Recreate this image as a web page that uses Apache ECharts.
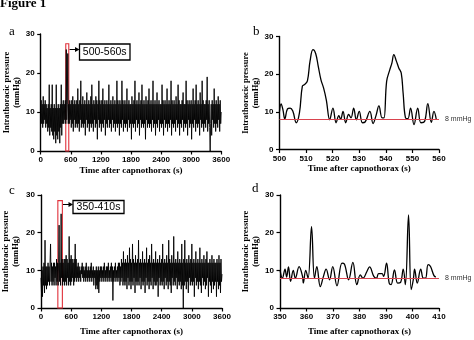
<!DOCTYPE html>
<html><head><meta charset="utf-8">
<script src="https://cdn.jsdelivr.net/npm/echarts@6/dist/echarts.min.js"></script>
<style>html,body{margin:0;padding:0;background:#fff}#c{width:474px;height:340px}</style>
</head><body><div id="c"></div>
<script>
// ---- data ----
const overviewStep = 10; // seconds between samples in the overview traces
const traceA = [
10,13,7,12,6,14,7,12,8,13,6,12,
7,11,5,12,6,17,4,11,6,12,5,17,
4,11,3,12,5,11,2,17,4,11,3,12,
5,11,2,12,6,17,4,12,7,13,7,12,
8,13,7,26,8,12,25,7,12,7,13,8,
12,6,13,7,14,5,12,8,13,6,12,7,
13,6,16,7,12,5,13,8,18,6,12,7,
14,6,12,7,13,4,12,8,15,6,12,7,
13,5,12,7,14,6,17,7,12,5,13,8,
12,6,14,7,13,3,12,8,18,6,13,7,
12,5,13,7,16,6,12,8,13,4,12,7,
13,6,12,8,17,6,12,7,13,5,12,8,
14,6,12,7,13,5,12,7,18,6,13,7,
12,4,13,7,12,6,18,8,13,5,12,7,
13,6,12,7,16,5,12,8,13,6,12,7,
12,3,14,7,12,6,13,7,18,5,12,8,
13,6,12,7,15,4,12,8,13,6,17,7,
12,6,13,7,12,3,14,8,12,6,13,7,
16,6,12,7,13,5,12,8,18,6,12,7,
13,4,12,7,15,6,12,8,13,5,12,7,
12,6,17,7,13,4,12,8,13,6,12,7,
16,5,12,7,13,6,12,8,18,4,13,7,
12,6,13,7,12,5,14,8,12,6,17,7,
13,4,12,7,12,6,13,8,15,5,12,7,
12,6,18,7,13,4,12,8,13,6,12,7,
13,3,12,7,16,6,12,8,13,5,17,7,
12,6,13,7,12,4,15,8,12,6,18,7,
13,5,12,7,12,6,13,8,19,5,12,7,
13,6,0,7,12,4,13,8,12,6,16,7,
12,5,13,7,12,6,14,8,12,5,13,7,
10];
const traceC = [
8,4,10,3,11,6,12,4,18,6,11,5,
11,6,12,7,11,6,12,17,7,12,6,11,
7,12,6,12,8,11,6,13,7,12,6,12,
22,7,12,6,25,8,13,6,12,7,13,6,
13,7,14,6,13,8,12,6,19,7,13,6,
14,7,13,8,12,6,13,7,17,8,13,7,
11,8,12,7,11,8,10,7,11,9,12,8,
11,7,10,8,11,7,12,8,10,7,11,8,
10,7,11,8,12,7,10,8,11,6,10,8,
10,5,11,6,10,5,11,4,10,7,11,8,
11,7,10,8,11,7,12,8,10,7,11,8,
11,7,12,8,10,7,11,8,12,7,11,2,
10,7,11,8,12,7,10,8,11,7,12,8,
12,6,11,7,13,8,12,6,15,7,12,6,
13,7,12,5,14,8,12,6,16,7,13,5,
12,7,17,6,13,8,12,4,14,7,12,6,
13,7,18,6,12,8,13,5,12,7,15,6,
12,7,13,4,12,8,16,6,12,7,13,5,
14,7,12,6,17,8,12,5,13,7,12,6,
15,6,12,7,13,3,12,8,14,6,12,7,
13,6,17,7,12,5,13,8,12,6,14,7,
12,5,18,7,13,6,12,4,14,8,12,6,
19,7,12,6,13,8,12,5,15,7,12,6,
13,7,12,5,17,6,12,0,13,6,18,7,
12,5,13,7,12,4,14,8,12,6,13,7,
17,6,12,7,13,3,12,8,15,6,12,7,
13,5,12,7,16,6,12,4,13,8,12,6,
14,7,12,5,13,6,15,8,12,3,12,7,
13,6,12,4,14,7,12,5,13,6,12,7,
12,3,13,7,12,5,14,6,12,4,13,7,
9];
const timeB = [500,500.6,501.3,502,503,504,505,506.3,507.5,508.6,509.5,510.5,511.5,512.6,513.6,514.6,515.6,516.6,517.6,518.9,520.1,521.3,522.3,523,523.9,524.9,526,526.9,527.9,528.9,530,531.2,532.2,534,535.2,536.3,537.4,538.6,539.3,540.3,541.5,542.3,543,544,544.9,545.8,546.5,547.4,548.3,549.3,550.6,552,553.2,554.6,555.8,557.1,558.1,559];
const valueB = [10.1,12.1,10.5,8.1,10.8,11.0,10.2,7.1,9.7,16.8,17.3,18.2,23.5,26.5,25.5,22.0,18.5,16.3,13.2,7.9,11.0,7.1,9.0,8.0,10.1,7.1,9.3,8.4,11.0,7.9,10.1,7.1,7.3,10.1,6.9,9.0,11.6,8.4,8.4,18.1,21.2,23.0,25.2,23.4,21.6,20.3,15.0,8.4,8.2,11.0,6.6,11.0,7.1,7.5,12.2,7.2,10.1,7.9];
const timeD = [350,350.9,351.9,352.5,353.2,354,355,355.8,357.2,358.5,358.8,359.7,360.6,361.9,363,363.9,365.2,366.4,367.4,368.7,369.9,371.5,373.4,374.3,375.9,377.5,379,380.3,381.3,382.8,383.8,385.4,386.4,387.2,388.5,389.1,390.2,391.2,391.9,393.2,394.4,395.5,396.5,397.3,398.5,399.5,400.3,400.8,401.8,403.1,404.1,404.9,405.9,406.8,408.1,408.8];
const valueD = [10.1,7.9,10.3,8.2,10.9,7.1,10.0,7.9,11.0,8.4,6.6,10.0,7.9,21.6,7.9,11.0,5.7,8.4,10.3,7.5,11.0,5.9,11.9,11.7,7.5,12.1,6.2,8.8,7.9,9.7,10.9,8.4,7.9,9.1,9.1,8.4,11.9,6.6,6.2,10.1,6.6,6.8,10.3,6.2,24.7,4.9,7.5,10.3,6.6,10.3,7.9,7.9,11.5,11.0,8.6,8.2];
const baseline = 8;
const windowA = [500, 560]; const windowATop = 27.5;
const windowC = [335, 425]; const windowCTop = 28.5;
const yTicks = [0, 30, 10];

// ---- build ----
const SERIF = "'Liberation Serif','Times New Roman',serif";
const SANS = "'Liberation Sans',Arial,sans-serif";
const toPairs = (vals, step) => vals.map((v, i) => [i * step, v]);
const zip = (t, v) => t.map((x, i) => [x, v[i]]);

const grids = [
  {left: 40.7, top: 34, width: 180.5, height: 117},
  {left: 279.5, top: 36.5, width: 159.5, height: 113},
  {left: 41, top: 195, width: 181, height: 113},
  {left: 280, top: 195, width: 159, height: 113}
];
const axisLine = {lineStyle: {color: '#000', width: 1.4}};
const axisTick = {length: 3.5, lineStyle: {color: '#000', width: 1.2}};
const tickLabel = {color: '#000', fontFamily: SANS, fontWeight: 'bold', fontSize: 8, formatter: v => String(v)};
function xAx(i, min, max, interval, gap) {
  return {type: 'value', gridIndex: i, min, max, interval, axisLine, axisTick,
    axisLabel: Object.assign({margin: 5}, tickLabel), splitLine: {show: false},
    name: 'Time after capnothorax (s)', nameLocation: 'middle', nameGap: gap,
    nameTextStyle: {color: '#000', fontFamily: SERIF, fontWeight: 'bold', fontSize: 9}};
}
function yAx(i, gap) {
  return {type: 'value', gridIndex: i, min: yTicks[0], max: yTicks[1], interval: yTicks[2], axisLine, axisTick,
    axisLabel: Object.assign({margin: 6}, tickLabel), splitLine: {show: false},
    name: 'Intrathoracic pressure\n(mmHg)', nameLocation: 'middle', nameGap: gap, nameRotate: 90,
    nameTextStyle: {color: '#000', fontFamily: SERIF, fontWeight: 'bold', fontSize: 8.5, lineHeight: 10}};
}
const redLine = {silent: true, symbol: 'none', lineStyle: {color: '#d9434e', width: 1.2, type: 'solid'},
  label: {show: true, position: 'end', formatter: '8 mmHg', color: '#333', fontFamily: SANS, fontSize: 7, distance: 6},
  data: [{yAxis: baseline}]};
const rectStyle = {color: 'rgba(0,0,0,0)', borderColor: '#e0303a', borderWidth: 1.1};

const option = {
  animation: false,
  grid: grids,
  xAxis: [xAx(0, 0, 3600, 600, 15), xAx(1, 500, 560, 10, 15), xAx(2, 0, 3600, 600, 19), xAx(3, 350, 410, 10, 19)],
  yAxis: [yAx(0, 19), yAx(1, 13), yAx(2, 20), yAx(3, 14)],
  series: [
    {type: 'line', xAxisIndex: 0, yAxisIndex: 0, data: toPairs(traceA, overviewStep), showSymbol: false,
      lineStyle: {color: '#000', width: 0.9},
      markArea: {silent: true, itemStyle: rectStyle, data: [[{coord: [windowA[0], 0]}, {coord: [windowA[1], windowATop]}]]}},
    {type: 'line', xAxisIndex: 1, yAxisIndex: 1, data: zip(timeB, valueB), showSymbol: false, smooth: 0.4,
      lineStyle: {color: '#000', width: 1.3}, markLine: redLine, z: 3},
    {type: 'line', xAxisIndex: 2, yAxisIndex: 2, data: toPairs(traceC, overviewStep), showSymbol: false,
      lineStyle: {color: '#000', width: 0.9},
      markArea: {silent: true, itemStyle: rectStyle, data: [[{coord: [windowC[0], 0]}, {coord: [windowC[1], windowCTop]}]]}},
    {type: 'line', xAxisIndex: 3, yAxisIndex: 3, data: zip(timeD, valueD), showSymbol: false, smooth: 0.4,
      lineStyle: {color: '#000', width: 1.3}, markLine: redLine, z: 3}
  ],
  graphic: [
    {type: 'text', left: 0, top: -3, style: {text: 'Figure 1', font: "bold 13px " + SERIF, fill: '#000'}},
    {type: 'text', left: 9, top: 25, style: {text: 'a', font: "13px " + SERIF, fill: '#000'}},
    {type: 'text', left: 253, top: 25, style: {text: 'b', font: "13px " + SERIF, fill: '#000'}},
    {type: 'text', left: 9, top: 184, style: {text: 'c', font: "13px " + SERIF, fill: '#000'}},
    {type: 'text', left: 252, top: 182, style: {text: 'd', font: "13px " + SERIF, fill: '#000'}},
    {type: 'rect', shape: {x: 79.5, y: 44, width: 50.5, height: 16}, style: {fill: '#fff', stroke: '#000', lineWidth: 1.3}},
    {type: 'text', x: 104.7, y: 52, style: {text: '500-560s', font: "10.5px " + SANS, fill: '#000', textAlign: 'center', textVerticalAlign: 'middle'}},
    {type: 'line', shape: {x1: 69.5, y1: 49.5, x2: 76, y2: 49.5}, style: {stroke: '#000', lineWidth: 1}},
    {type: 'polygon', shape: {points: [[75, 47], [79.5, 49.5], [75, 52]]}, style: {fill: '#000'}},
    {type: 'rect', shape: {x: 73, y: 200.5, width: 51, height: 13}, style: {fill: '#fff', stroke: '#000', lineWidth: 1.3}},
    {type: 'text', x: 98.5, y: 207, style: {text: '350-410s', font: "10.5px " + SANS, fill: '#000', textAlign: 'center', textVerticalAlign: 'middle'}},
    {type: 'line', shape: {x1: 63, y1: 204.5, x2: 69, y2: 204.5}, style: {stroke: '#000', lineWidth: 1}},
    {type: 'polygon', shape: {points: [[68.5, 202], [73, 204.5], [68.5, 207]]}, style: {fill: '#000'}}
  ]
};
echarts.init(document.getElementById('c'), null, {renderer: 'canvas'}).setOption(option);
</script></body></html>
